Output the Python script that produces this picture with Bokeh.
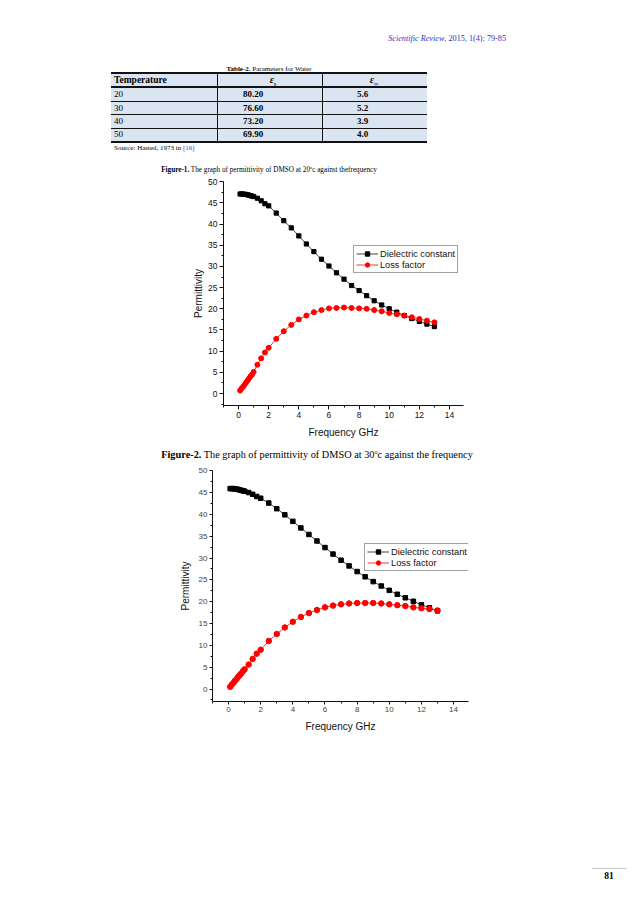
from bokeh.plotting import figure
from bokeh.models import Range1d, FixedTicker, Legend, LegendItem, Div
from bokeh.layouts import column
from bokeh.embed import file_html
from bokeh.resources import INLINE

# ---------------- data ----------------
freq = [0.1, 0.2, 0.3, 0.4, 0.5, 0.6, 0.7, 0.8, 0.9, 1.0,
        1.25, 1.5, 1.75, 2.0, 2.5, 3.0, 3.5, 4.0, 4.5, 5.0, 5.5, 6.0,
        6.5, 7.0, 7.5, 8.0, 8.5, 9.0, 9.5, 10.0, 10.5, 11.0, 11.5, 12.0,
        12.5, 13.0]

diel_20 = [47.1, 47.1, 47.1, 47.0, 47.0, 46.9, 46.8, 46.7, 46.6, 46.5,
           46.1, 45.5, 44.8, 44.3, 42.6, 40.8, 39.1, 37.2, 35.3, 33.5, 31.7, 30.1,
           28.5, 27.0, 25.5, 24.3, 23.1, 21.9, 20.9, 20.0, 19.2, 18.4, 17.7, 17.0,
           16.4, 15.8]
loss_20 = [0.7, 1.2, 1.6, 2.1, 2.6, 3.1, 3.6, 4.1, 4.5, 5.1,
           6.8, 8.3, 9.7, 10.8, 12.9, 14.7, 16.2, 17.5, 18.4, 19.2, 19.7, 20.1,
           20.2, 20.3, 20.2, 20.1, 20.0, 19.7, 19.4, 19.0, 18.7, 18.4, 18.0, 17.6,
           17.2, 16.8]

diel_30 = [45.9, 45.9, 45.9, 45.8, 45.8, 45.7, 45.6, 45.5, 45.4, 45.3,
           45.0, 44.6, 44.1, 43.7, 42.6, 41.3, 39.9, 38.4, 36.9, 35.4, 33.9, 32.4,
           30.9, 29.5, 28.2, 26.9, 25.7, 24.6, 23.6, 22.6, 21.7, 20.9, 20.1, 19.3,
           18.6, 17.9]
loss_30 = [0.5, 1.0, 1.4, 1.9, 2.3, 2.8, 3.2, 3.6, 4.1, 4.5,
           5.6, 6.9, 8.1, 9.0, 11.0, 12.6, 14.1, 15.4, 16.5, 17.4, 18.1, 18.7,
           19.1, 19.4, 19.6, 19.7, 19.7, 19.7, 19.6, 19.4, 19.2, 19.0, 18.7, 18.5,
           18.3, 18.0]

x_major = [0, 2, 4, 6, 8, 10, 12, 14]
x_minor = [-1, 1, 3, 5, 7, 9, 11, 13]
y_major = [0, 5, 10, 15, 20, 25, 30, 35, 40, 45, 50]
y_minor = [-2.5, 2.5, 7.5, 12.5, 17.5, 22.5, 27.5, 32.5, 37.5, 42.5, 47.5]

temps = ["20", "30", "40", "50"]
eps_s = ["80.20", "76.60", "73.20", "69.90"]
eps_inf = ["5.6", "5.2", "3.9", "4.0"]

SERIF = "'Liberation Serif', 'Times New Roman', serif"
SANS = "Liberation Sans"
W = 638


def txt(x, y, html, size, anchor="left", weight="normal", style="normal",
        color="#000", family=SERIF):
    if anchor == "center":
        pos = f"left:{x}px;transform:translateX(-50%);"
    elif anchor == "right":
        pos = f"right:{W - x}px;"
    else:
        pos = f"left:{x}px;"
    return (f'<div style="position:absolute;{pos}top:{y}px;font-family:{family};'
            f'font-size:{size}px;font-weight:{weight};font-style:{style};color:{color};'
            f'line-height:1;white-space:nowrap;">{html}</div>')


def box(x, y, w, h, bg):
    return (f'<div style="position:absolute;left:{x}px;top:{y}px;width:{w}px;'
            f'height:{h}px;background:{bg};"></div>')


def make_div(height, inner):
    return Div(width=W, height=height, margin=0,
               text=f'<div style="position:relative;width:{W}px;height:{height}px;">{inner}</div>')


# ---------------- top block: header, table, captions ----------------
parts = []
parts.append(txt(506, 39.5 - 4.1,
                 "<i>Scientific Review</i>, 2015, 1(4): 79-85", 8.2,
                 anchor="right", color="#3333cc"))
parts.append(txt(269, 69 - 3.5, "<b>Table-2.</b> Parameters for Water", 7,
                 anchor="center"))

tl, tr = 111, 427
row_edges = [73.3, 87.3, 101.3, 114.7, 128.0, 141.7]
parts.append(box(tl, row_edges[0], tr - tl, row_edges[-1] - row_edges[0], "#dbe5f1"))
for i, ye in enumerate(row_edges):
    th = 2 if i in (0, 1, len(row_edges) - 1) else 1
    parts.append(box(tl, ye - th / 2, tr - tl, th, "#111"))
for xv in (217, 322):
    parts.append(box(xv, row_edges[0], 1, row_edges[-1] - row_edges[0], "#111"))

F = 9
centers = [(row_edges[i] + row_edges[i + 1]) / 2 for i in range(5)]
parts.append(txt(114, centers[0] - F * 0.5, "Temperature", F + 0.5, weight="bold"))
parts.append(txt(273, centers[0] - F * 0.55,
                 '<b><i>&#949;</i></b><sub style="font-size:0.65em;line-height:0">s</sub>', F + 1,
                 anchor="center"))
parts.append(txt(374, centers[0] - F * 0.55,
                 '<b><i>&#949;</i></b><sub style="font-size:0.65em;line-height:0">&#8734;</sub>', F + 1,
                 anchor="center"))
for i in range(4):
    cy = centers[i + 1] - F * 0.5
    parts.append(txt(114, cy, temps[i], F))
    parts.append(txt(243, cy, eps_s[i], F, weight="bold"))
    parts.append(txt(357, cy, eps_inf[i], F, weight="bold"))

parts.append(txt(114, 148.5 - 3.5,
                 'Source: Hasted, 1973 in <span style="color:#3333cc">[16]</span>', 7))
parts.append(txt(269, 171 - 3.6,
                 '<b>Figure-1.</b> The graph of permittivity of DMSO at 20'
                 '<sup style="font-size:0.6em;line-height:0">o</sup>c against thefrequency', 7.2,
                 anchor="center"))

top_div = make_div(176, "".join(parts))

mid_div = make_div(20, txt(317, 5.4,
                           '<b>Figure-2.</b> The graph of permittivity of DMSO at 30'
                           '<sup style="font-size:0.6em;line-height:0">o</sup>c against the frequency',
                           10.3, anchor="center"))

foot_div = make_div(150, box(592, 126, 35, 1, "#c8c8c8")
                    + txt(609, 130.3, "<b>81</b>", 9.5, anchor="center"))


# ---------------- charts ----------------
# both charts share the same borders (212 left, 170 right); chart 1 is narrower
# and shifted right by an 11px margin so its frame spans 223..463
def make_chart(diel, loss, width, height, top, bottom, xr, yr,
               tick_size, tick_color, tick_out, ylab_standoff, xlab_standoff,
               legend_loc, legend_font, msq, mci, margin):
    p = figure(width=width, height=height, x_range=Range1d(*xr), y_range=Range1d(*yr),
               output_backend="svg", toolbar_location=None,
               min_border_left=212, min_border_right=170,
               min_border_top=top, min_border_bottom=bottom, margin=margin)
    p.outline_line_color = None
    p.xgrid.visible = False
    p.ygrid.visible = False
    p.background_fill_color = "white"
    p.border_fill_color = "white"

    l1 = p.line(freq, diel, line_color="#444444", line_width=1)
    s1 = p.scatter(freq, diel, marker="square", size=msq, fill_color="black",
                   line_color="black")
    l2 = p.line(freq, loss, line_color="#ff3030", line_width=1)
    s2 = p.scatter(freq, loss, marker="circle", size=mci, fill_color="#ff0000",
                   line_color="#ff0000")

    p.xaxis.ticker = FixedTicker(ticks=x_major, minor_ticks=x_minor)
    p.yaxis.ticker = FixedTicker(ticks=y_major, minor_ticks=y_minor)
    for ax in (p.xaxis[0], p.yaxis[0]):
        ax.axis_line_color = "#111"
        ax.major_tick_line_color = "#111"
        ax.minor_tick_line_color = "#111"
        ax.major_tick_out = tick_out
        ax.major_tick_in = 0
        ax.minor_tick_out = 2
        ax.minor_tick_in = 0
        ax.major_label_text_font = SANS
        ax.major_label_text_font_size = f"{tick_size}px"
        ax.major_label_text_color = tick_color
        ax.axis_label_text_font = SANS
        ax.axis_label_text_font_size = "10px"
        ax.axis_label_text_font_style = "normal"
        ax.axis_label_text_color = "#111"
    p.xaxis.axis_label = "Frequency GHz"
    p.yaxis.axis_label = "Permittivity"
    p.xaxis.major_label_standoff = 2
    p.yaxis.major_label_standoff = 2
    p.yaxis.axis_label_standoff = ylab_standoff
    p.xaxis.axis_label_standoff = xlab_standoff

    legend = Legend(items=[LegendItem(label="Dielectric constant", renderers=[l1, s1]),
                           LegendItem(label="Loss factor", renderers=[l2, s2])],
                    location=legend_loc)
    legend.margin = 0
    legend.padding = 2
    legend.spacing = 0
    legend.glyph_width = 22
    legend.glyph_height = 11
    legend.label_height = 11
    legend.label_standoff = 2
    legend.label_text_font = SANS
    legend.label_text_font_size = f"{legend_font}px"
    legend.label_text_color = "#111"
    legend.border_line_color = "#444"
    legend.border_line_width = 1
    legend.background_fill_alpha = 1
    p.add_layout(legend)
    return p


fig1 = make_chart(diel_20, loss_20, width=622, height=269, top=5, bottom=40,
                  xr=(-1.0, 14.93), yr=(-2.83, 50.05), tick_size=8.5, tick_color="#111",
                  tick_out=4, ylab_standoff=1, xlab_standoff=6, legend_loc=(130, 132),
                  legend_font=9.2, msq=4.2, mci=5, margin=(0, 0, 0, 11))
fig2 = make_chart(diel_30, loss_30, width=638, height=277, top=5, bottom=41,
                  xr=(-1.0, 14.93), yr=(-2.86, 50.05), tick_size=8, tick_color="#444",
                  tick_out=3, ylab_standoff=5, xlab_standoff=6, legend_loc=(152, 130),
                  legend_font=9.3, msq=4.5, mci=5.5, margin=0)

page = column(top_div, fig1, mid_div, fig2, foot_div, spacing=0)

with open("out.html", "w") as f:
    f.write(file_html(page, INLINE))
